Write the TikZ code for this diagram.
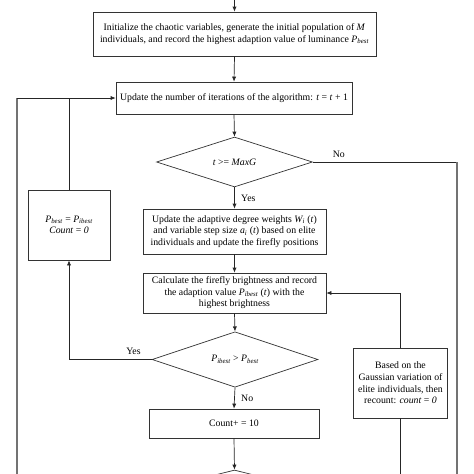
\documentclass[tikz,border=0pt]{standalone}
\usepackage{fontspec}
\setmainfont{Liberation Serif}
\usetikzlibrary{shapes.geometric,arrows.meta}
\tikzset{
  box/.style={draw=black!80, line width=0.7pt, align=center, font=\fontsize{9.8}{11.6}\selectfont, inner sep=1pt},
  dia/.style={draw=black!80, line width=0.7pt, diamond, align=center, font=\fontsize{9.8}{11.6}\selectfont, inner sep=0pt},
  conn/.style={draw=black!85, line width=0.7pt},
  arr/.style={conn, -{Latex[length=5pt,width=4.2pt]}},
  outer/.style={draw=black!55, line width=1.6pt},
  lbl/.style={font=\fontsize{9.8}{11}\selectfont}
}
\begin{document}
\begin{tikzpicture}[x=1pt,y=-1pt]
\useasboundingbox (0,0) rectangle (474,474);
\clip (0,0) rectangle (474,474);
\fill[white] (0,0) rectangle (474,474);
\coordinate (top) at (234.5,-2);
\node[box, minimum width=283pt, minimum height=44pt] (b1) at (234.5,34)
  {Initialize the chaotic variables, generate the initial population of \textit{M}\\
   individuals, and record the highest adaption value of luminance \textit{P\textsubscript{best}}};
\node[box, minimum width=236pt, minimum height=32pt] (b2) at (234,98)
  {Update the number of iterations of the algorithm: \textit{t} = \textit{t} + 1};
\node[dia, minimum width=156pt, minimum height=39.5pt] (d1) at (234.5,162)
  {\textit{t} >= \textit{MaxG}};
\node[box, minimum width=183pt, minimum height=45pt] (b3) at (234.5,231.5)
  {Update the adaptive degree weights \textit{W\textsubscript{i}} (\textit{t})\\
   and variable step size \textit{a\textsubscript{i}} (\textit{t}) based on elite\\
   individuals and update the firefly positions};
\node[box, minimum width=82pt, minimum height=70pt] (bl) at (69,225)
  {\textit{P\textsubscript{best}} = \textit{P\textsubscript{ibest}}\\ \textit{Count} = \textit{0}};
\node[box, minimum width=183pt, minimum height=40pt] (b4) at (234.5,293)
  {Calculate the firefly brightness and record\\
   the adaption value \textit{P\textsubscript{ibest}} (\textit{t}) with the\\
   highest brightness};
\node[dia, minimum width=166pt, minimum height=39pt] (d2) at (235,359.5)
  {\textit{P\textsubscript{ibest}} > \textit{P\textsubscript{best}}};
\node[box, minimum width=170pt, minimum height=29pt] (b5) at (234,423.5)
  {Count+ = 10};
\node[box, minimum width=94pt, minimum height=70pt] (br) at (400.5,383)
  {Based on the\\ Gaussian variation of\\ elite individuals, then\\ recount: \textit{count} = \textit{0}};
\node[dia, minimum width=156pt, minimum height=39pt] (d3) at (234.5,489.5) {};
% coordinates for free ends
\coordinate (lo) at (17,476);
\coordinate (lt) at (17,98);
\coordinate (ro) at (457,476);
\coordinate (rt) at (457,162);
\coordinate (rb) at (400.5,476);
% main flow
\draw[arr] (top) -- (b1.north);
\draw[arr] (b1.south) -- (b2.north);
\draw[arr] (b2.south) -- (d1.north);
\draw[arr] (d1.south) -- node[lbl, right=3pt] {Yes} (b3.north);
\draw[arr] (b3.south) -- (b4.north);
\draw[arr] (b4.south) -- (d2.north);
\draw[arr] (d2.south) -- node[lbl, right=3pt] {No} (b5.north);
\draw[arr] (b5.south) -- (d3.north);
% left loops
\draw[arr] (bl.north) |- (b2.west);
\draw[arr] (d2.west) -| node[lbl, pos=0.11, above=1pt] {Yes} (bl.south);
\draw[outer] (lo) -- (lt);
\draw[conn] (lt) -- (bl.north |- lt);
% right
\draw[conn] (d1.east) -- node[lbl, above=1pt, pos=0.18] {No} (rt);
\draw[outer] (rt) -- (ro);
\draw[arr] (br.north) |- (b4.east);
\draw[conn] (br.south) -- (rb);
\end{tikzpicture}
\end{document}
